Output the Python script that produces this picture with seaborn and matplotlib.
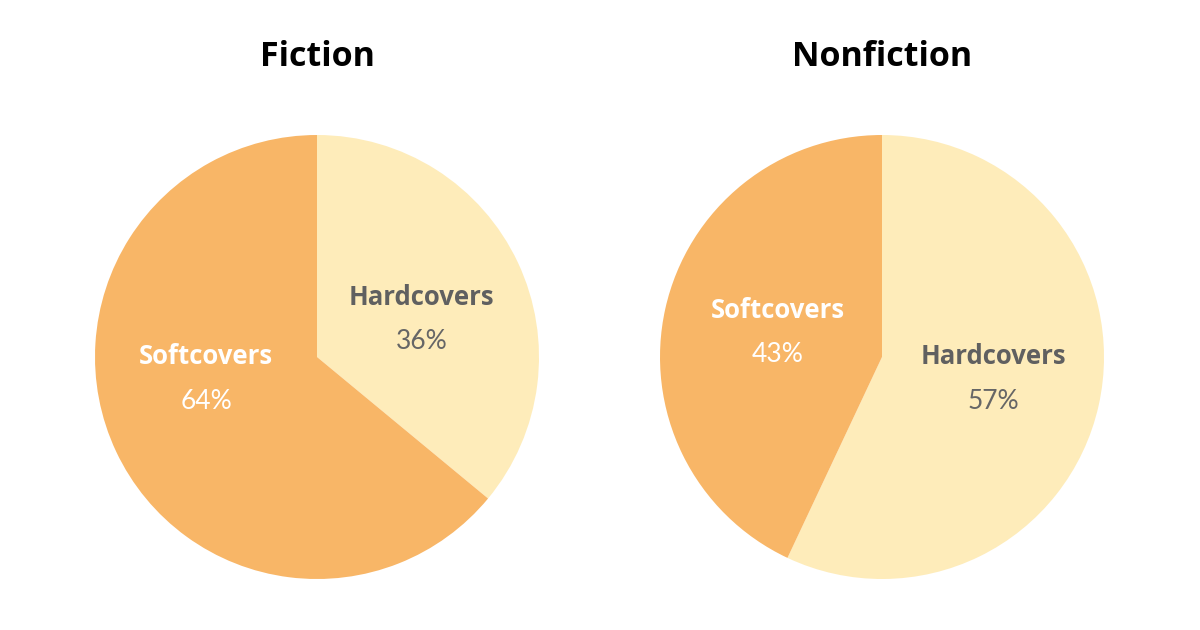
import numpy as np
import matplotlib.pyplot as plt
import seaborn as sns

sns.set_theme(style="white")
plt.rcParams['font.family'] = ['Open Sans', 'DejaVu Sans']

# data
genres = ['Fiction', 'Nonfiction']
formats = ['Hardcovers', 'Softcovers']
fiction_share = [36, 64]
nonfiction_share = [57, 43]

colors = ['#FEECBA', '#F8B667']
name_colors = ['#606060', 'white']
pct_colors = ['#666666', 'white']

# label anchor per genre/format, in pie radius units (hand placed like original)
label_pos = {
    'Fiction': [(0.47, 0.27), (-0.50, 0.0)],
    'Nonfiction': [(0.50, 0.0), (-0.47, 0.21)],
}

fig = plt.figure(figsize=(12, 6.3), dpi=100)
fig.patch.set_facecolor('white')

centers = [317, 882]
r_px = 222
for genre, shares, cx in zip(genres, [fiction_share, nonfiction_share], centers):
    ax = fig.add_axes([(cx - r_px) / 1200, (630 - 357 - r_px) / 630,
                       2 * r_px / 1200, 2 * r_px / 630])
    ax.pie(shares, colors=colors, startangle=90, counterclock=False,
           radius=1, wedgeprops=dict(linewidth=0))
    ax.set_xlim(-1, 1)
    ax.set_ylim(-1, 1)
    ax.set_aspect('equal')
    ax.axis('off')
    for i, (fmt, val) in enumerate(zip(formats, shares)):
        x, y = label_pos[genre][i]
        ax.text(x, y, fmt, ha='center', va='center', fontsize=18.5,
                fontweight='bold', color=name_colors[i])
        ax.text(x, y - 0.2, f'{val}%', ha='center', va='center', fontsize=19,
                fontweight='normal', color=pct_colors[i], family=['Lato', 'DejaVu Sans'])
    fig.text(cx / 1200, 1 - 57 / 630, genre, ha='center', va='center',
             fontsize=24.5, fontweight='bold', color='black')

plt.savefig('out.png', dpi=100, facecolor='white')
